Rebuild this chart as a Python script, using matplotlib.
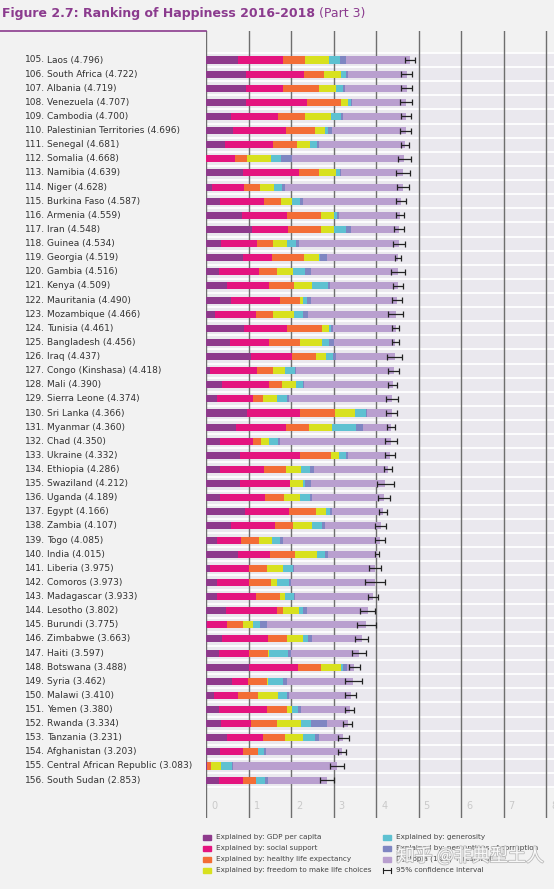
import numpy as np
import matplotlib.pyplot as plt
import matplotlib.patheffects as pe

# ranks 105-156, WHR 2019 figure 2.7 part 3
ranks = list(range(105, 157))
countries = ["Laos", "South Africa", "Albania", "Venezuela", "Cambodia",
             "Palestinian Territories", "Senegal", "Somalia", "Namibia", "Niger",
             "Burkina Faso", "Armenia", "Iran", "Guinea", "Georgia", "Gambia",
             "Kenya", "Mauritania", "Mozambique", "Tunisia", "Bangladesh", "Iraq",
             "Congo (Kinshasa)", "Mali", "Sierra Leone", "Sri Lanka", "Myanmar",
             "Chad", "Ukraine", "Ethiopia", "Swaziland", "Uganda", "Egypt",
             "Zambia", "Togo", "India", "Liberia", "Comoros", "Madagascar",
             "Lesotho", "Burundi", "Zimbabwe", "Haiti", "Botswana", "Syria",
             "Malawi", "Yemen", "Rwanda", "Tanzania", "Afghanistan",
             "Central African Republic", "South Sudan"]
scores = [4.796, 4.722, 4.719, 4.707, 4.700, 4.696, 4.681, 4.668, 4.639, 4.628,
          4.587, 4.559, 4.548, 4.534, 4.519, 4.516, 4.509, 4.490, 4.466, 4.461,
          4.456, 4.437, 4.418, 4.390, 4.374, 4.366, 4.360, 4.350, 4.332, 4.286,
          4.212, 4.189, 4.166, 4.107, 4.085, 4.015, 3.975, 3.973, 3.933, 3.802,
          3.775, 3.663, 3.597, 3.488, 3.462, 3.410, 3.380, 3.334, 3.231, 3.203,
          3.083, 2.853]

gdp = [0.76, 0.95, 0.95, 0.95, 0.58, 0.64, 0.44, 0.00, 0.88, 0.13,
       0.32, 0.84, 1.09, 0.36, 0.88, 0.31, 0.50, 0.58, 0.20, 0.89,
       0.56, 1.05, 0.09, 0.38, 0.27, 0.96, 0.70, 0.33, 0.80, 0.32,
       0.80, 0.32, 0.91, 0.58, 0.27, 0.76, 0.09, 0.27, 0.27, 0.48,
       0.03, 0.37, 0.31, 1.01, 0.62, 0.19, 0.31, 0.36, 0.49, 0.33,
       0.03, 0.31]
social = [1.04, 1.36, 0.85, 1.43, 1.11, 1.25, 1.14, 0.68, 1.30, 0.77,
          1.05, 1.06, 0.84, 0.84, 0.67, 0.93, 0.98, 1.15, 0.98, 1.02,
          0.92, 0.97, 1.12, 1.10, 0.84, 1.24, 1.18, 0.78, 1.40, 1.04,
          1.17, 1.07, 1.04, 1.04, 0.56, 0.75, 0.91, 0.74, 0.91, 1.18,
          0.46, 1.10, 0.70, 1.16, 0.37, 0.56, 1.13, 0.71, 0.86, 0.53,
          0.00, 0.56]
health = [0.53, 0.47, 0.86, 0.80, 0.63, 0.67, 0.57, 0.29, 0.48, 0.37,
          0.39, 0.81, 0.78, 0.38, 0.75, 0.43, 0.59, 0.49, 0.40, 0.83,
          0.73, 0.56, 0.37, 0.30, 0.24, 0.83, 0.55, 0.19, 0.73, 0.52,
          0.00, 0.45, 0.63, 0.43, 0.42, 0.58, 0.44, 0.52, 0.56, 0.16,
          0.38, 0.44, 0.46, 0.54, 0.45, 0.48, 0.47, 0.61, 0.50, 0.37,
          0.09, 0.30]
freedom = [0.56, 0.39, 0.39, 0.16, 0.62, 0.23, 0.30, 0.55, 0.41, 0.34,
           0.26, 0.29, 0.30, 0.33, 0.36, 0.37, 0.43, 0.07, 0.49, 0.15,
           0.53, 0.25, 0.27, 0.33, 0.31, 0.48, 0.54, 0.18, 0.20, 0.36,
           0.31, 0.36, 0.25, 0.45, 0.30, 0.51, 0.37, 0.14, 0.13, 0.37,
           0.23, 0.37, 0.02, 0.47, 0.01, 0.46, 0.12, 0.55, 0.43, 0.00,
           0.24, 0.01]
generosity = [0.26, 0.12, 0.18, 0.06, 0.23, 0.09, 0.17, 0.25, 0.08, 0.17,
              0.19, 0.08, 0.29, 0.21, 0.02, 0.29, 0.38, 0.09, 0.21, 0.06,
              0.15, 0.16, 0.24, 0.17, 0.25, 0.26, 0.57, 0.21, 0.17, 0.21,
              0.06, 0.24, 0.08, 0.24, 0.19, 0.19, 0.24, 0.29, 0.20, 0.10,
              0.17, 0.13, 0.45, 0.04, 0.35, 0.21, 0.13, 0.23, 0.28, 0.14,
              0.24, 0.20]
corruption = [0.15, 0.05, 0.03, 0.03, 0.05, 0.08, 0.04, 0.25, 0.03, 0.09,
              0.08, 0.05, 0.11, 0.07, 0.16, 0.13, 0.04, 0.08, 0.12, 0.04,
              0.12, 0.06, 0.02, 0.02, 0.04, 0.02, 0.15, 0.05, 0.03, 0.09,
              0.12, 0.05, 0.06, 0.05, 0.06, 0.08, 0.02, 0.05, 0.02, 0.08,
              0.17, 0.08, 0.07, 0.09, 0.11, 0.05, 0.07, 0.39, 0.11, 0.03,
              0.03, 0.07]
ci_half = [0.12, 0.13, 0.12, 0.14, 0.12, 0.12, 0.09, 0.16, 0.16, 0.14,
           0.11, 0.10, 0.12, 0.14, 0.08, 0.16, 0.12, 0.11, 0.18, 0.09,
           0.09, 0.18, 0.13, 0.11, 0.15, 0.12, 0.09, 0.14, 0.11, 0.09,
           0.20, 0.14, 0.10, 0.13, 0.12, 0.05, 0.15, 0.23, 0.11, 0.17,
           0.22, 0.16, 0.16, 0.13, 0.20, 0.13, 0.11, 0.10, 0.13, 0.09,
           0.16, 0.16]

labels = ["Explained by: GDP per capita", "Explained by: social support",
          "Explained by: healthy life expectancy",
          "Explained by: freedom to make life choices",
          "Explained by: generosity", "Explained by: perceptions of corruption",
          "Dystopia (1.88) + residual"]
colors = ["#8e3a8c", "#e4147f", "#f36d36", "#d8e11f", "#5ec1d1", "#7f86c2", "#b99fcf"]

parts = [gdp, social, health, freedom, generosity, corruption]
scores_a = np.array(scores)
dyst = scores_a - np.sum(np.array(parts), axis=0)
parts.append(list(dyst))

W, H = 554, 889
fig = plt.figure(figsize=(W / 100, H / 100), dpi=100, facecolor="#f2f2f2")

ax_top, ax_bot = 31, 818
ax_l = 206
ax = fig.add_axes([ax_l / W, 1 - ax_bot / H, (W - ax_l) / W, (ax_bot - ax_top) / H])
ax.set_facecolor("#f2f2f2")
row0, dy = 60, 14.12
ax.set_ylim((ax_bot - row0) / dy, -(row0 - ax_top) / dy)
ax.set_xlim(0, (W - ax_l) / 42.5)
for s in ax.spines.values():
    s.set_visible(False)
ax.set_xticks([]); ax.set_yticks([])

n = len(countries)
y = np.arange(n)
ax.axhspan(-0.5, n - 0.5, color="#eae8ee", zorder=0)
for b in np.arange(-0.5, n, 1.0):
    ax.axhline(b, color="white", lw=1.3, zorder=0.5)
for g in range(9):
    ax.axvline(g, color="#6e6e6e", lw=1.0, zorder=1)
    ax.text(g + 0.12, (806 - row0) / dy, str(g), color="#c9c9c9", fontsize=7,
            va="center", ha="left")

left = np.zeros(n)
for vals, c in zip(parts, colors):
    ax.barh(y, vals, left=left, height=0.5, color=c, zorder=2, linewidth=0)
    left += np.array(vals)

ax.errorbar(scores, y, xerr=ci_half, fmt="none", ecolor="#222222", elinewidth=0.9,
            capsize=2, capthick=0.9, zorder=3)

# row labels
for i in range(n):
    yy = 1 - (row0 + i * dy) / H
    fig.text(25 / W, yy, f"{ranks[i]}.", fontsize=6.5, color="#333333", va="center")
    fig.text(47 / W, yy, f"{countries[i]} ({scores[i]:.3f})", fontsize=6.5,
             color="#333333", va="center")

# title
t1 = fig.text(2 / W, 1 - 14 / H, "Figure 2.7: Ranking of Happiness 2016-2018",
              fontsize=9.0, fontweight="bold", color="#8b3b8e", va="center")
fig.canvas.draw()
bb = t1.get_window_extent()
fig.text((bb.x1 + 4) / W, 1 - 14 / H, "(Part 3)", fontsize=9.0, color="#8b3b8e",
         va="center")
fig.add_artist(plt.Line2D([0, ax_l / W], [1 - 31 / H, 1 - 31 / H], color="#8b3b8e",
                          lw=1.2, transform=fig.transFigure))

# legend
leg_rows = [837, 848, 859, 870]
cols = [(203, labels[:4], colors[:4]), (383, labels[4:], colors[4:])]
for x0, labs, cs in cols:
    for j, (lab, c) in enumerate(zip(labs, cs)):
        yy = leg_rows[j]
        fig.patches.append(plt.Rectangle((x0 / W, 1 - (yy + 2.5) / H), 8 / W, 5 / H,
                                         color=c, transform=fig.transFigure))
        fig.text((x0 + 13) / W, 1 - yy / H, lab, fontsize=5.2, color="#444444",
                 va="center")
yy = leg_rows[3]
fig.add_artist(plt.Line2D([383 / W, 391 / W], [1 - yy / H] * 2, color="#222222",
                          lw=0.8, transform=fig.transFigure))
for xe in (383, 391):
    fig.add_artist(plt.Line2D([xe / W] * 2, [1 - (yy - 2.5) / H, 1 - (yy + 2.5) / H],
                              color="#222222", lw=0.8, transform=fig.transFigure))
fig.text(396 / W, 1 - yy / H, "95% confidence interval", fontsize=5.2,
         color="#444444", va="center")

# watermark
wm = fig.text(470 / W, 1 - 856 / H, "知乎 @非典型土人", fontsize=13, color="white",
              alpha=0.9, ha="center", va="center",
              family=["Noto Sans CJK SC", "DejaVu Sans"])
wm.set_path_effects([pe.withStroke(linewidth=1.2, foreground="#b5b5b5")])

fig.savefig("out.png", dpi=100, facecolor=fig.get_facecolor())
